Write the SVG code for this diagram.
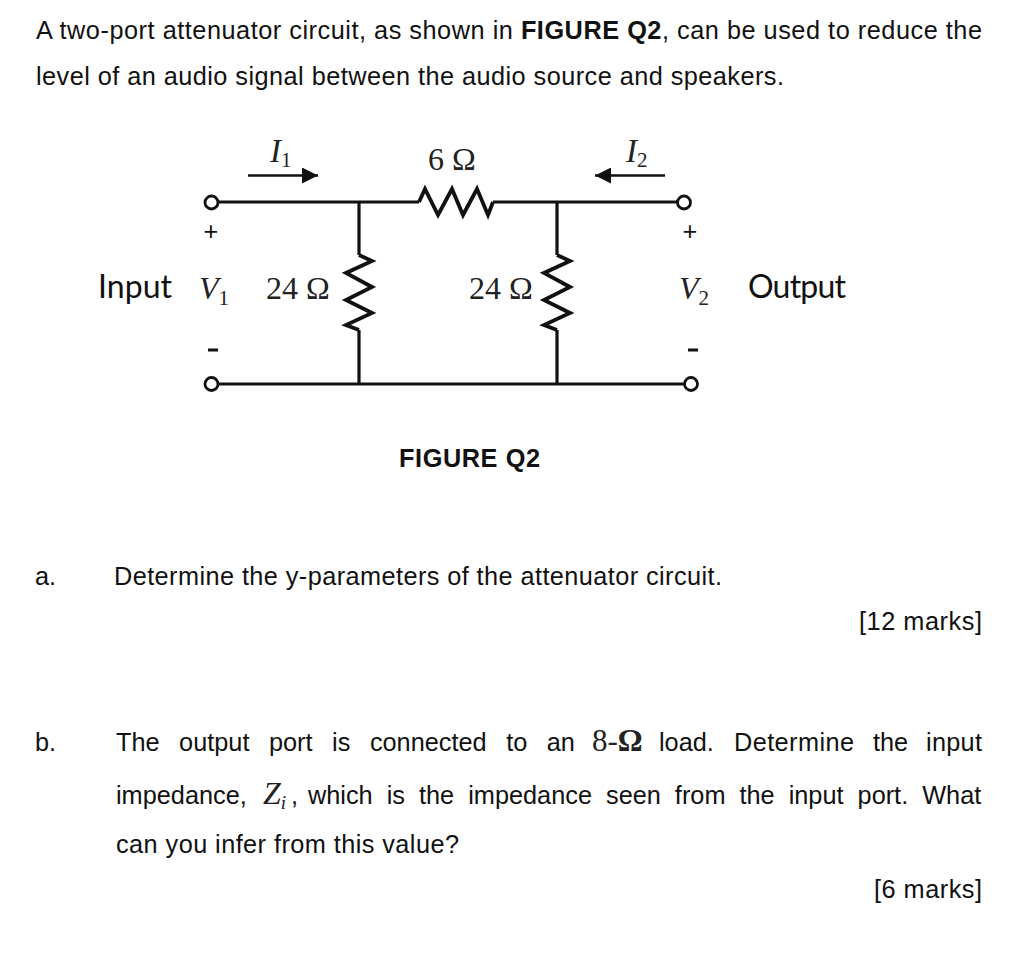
<svg xmlns="http://www.w3.org/2000/svg" width="1024" height="963" viewBox="0 0 1024 963">
<style>
text{fill:#111}
.b{font-family:"Liberation Sans",Arial,sans-serif;font-size:25.3px}
.bb{font-weight:700}
.m{font-family:"Liberation Serif","Times New Roman",serif;font-size:32px;fill:#222}
.i{font-style:italic}
.s{font-size:21px}
.l{font-family:Lato,"Open Sans",sans-serif;font-size:32px}
.w{fill:none;stroke:#111;stroke-width:3.2;stroke-linejoin:miter}
.z{stroke-width:3.8}
.a{stroke-width:2.6}
.t{fill:#fff;stroke:#111;stroke-width:2.8}
</style>
<defs>
<marker id="ah" markerUnits="userSpaceOnUse" markerWidth="17" markerHeight="16" refX="16" refY="8" orient="auto-start-reverse"><path d="M0 0L16 8L0 16Z" fill="#111"/></marker>
</defs>
<rect width="1024" height="963" fill="#fff"/>
<g id="paragraph">
<text class="b" x="36" y="39" textLength="946">A two-port attenuator circuit, as shown in <tspan class="bb">FIGURE Q2</tspan>, can be used to reduce the</text>
<text class="b" x="36" y="85" textLength="748">level of an audio signal between the audio source and speakers.</text>
</g>
<g id="connectors">
<path class="w" d="M217 202H419"/>
<path class="w" d="M493 202H678"/>
<path class="w z" d="M419 202L425 189L438 215L452 189L463 215L477 189L488 215L493 202"/>
<path class="w" d="M218 384H685"/>
<path class="w" d="M359 202V255M359 330V384"/>
<path class="w" d="M557 202V255M557 330V384"/>
<path class="w z" d="M359 255L372 261L346 273L372 287L346 300L372 313L346 325L359 330"/>
<path class="w z" d="M557 255L570 261L544 273L570 287L544 300L570 313L544 325L557 330"/>
<path class="w a" d="M248 175.500H318" marker-end="url(#ah)"/>
<path class="w a" d="M665 175.500H595" marker-end="url(#ah)"/>
</g>
<g id="terminal-in-top"><circle class="t" cx="211.500" cy="202.500" r="6.500"/></g>
<g id="terminal-in-bottom"><circle class="t" cx="211.500" cy="384" r="6.500"/></g>
<g id="terminal-out-top"><circle class="t" cx="684" cy="202.500" r="6.500"/></g>
<g id="terminal-out-bottom"><circle class="t" cx="691" cy="384" r="6.500"/></g>
<g id="labels">
<text class="m i" x="270" y="162" style="font-size:33px">I<tspan class="s" dy="5" font-style="normal">1</tspan></text>
<text class="m i" x="626" y="162" style="font-size:33px">I<tspan class="s" dy="5" font-style="normal">2</tspan></text>
<text class="m" x="428" y="170">6 Ω</text>
<text class="m" x="266" y="299">24 Ω</text>
<text class="m" x="469" y="299">24 Ω</text>
<text class="m i" x="199" y="299">V<tspan class="s" dy="6" font-style="normal">1</tspan></text>
<text class="m i" x="679" y="299">V<tspan class="s" dy="6" font-style="normal">2</tspan></text>
<text class="l" x="98" y="298" textLength="74">Input</text>
<text class="l" x="748" y="298" textLength="98">Output</text>
<text class="b" x="203.500" y="240">+</text>
<text class="b" x="682.500" y="240">+</text>
<path d="M208 350H218M688 350H698" stroke="#111" stroke-width="3" fill="none"/>
<text class="b bb" x="399" y="467" textLength="141">FIGURE Q2</text>
</g>
<g id="questions">
<text class="b" x="35" y="585">a.</text>
<text class="b" x="114" y="585" textLength="608">Determine the y-parameters of the attenuator circuit.</text>
<text class="b" x="859" y="630" textLength="123">[12 marks]</text>
<text class="b" x="35" y="751">b.</text>
<text class="b" x="116" y="751" word-spacing="12.500">The output port is connected to an</text>
<text class="m" x="592" y="751" style="font-size:31px">8-<tspan font-weight="700">Ω</tspan></text>
<text class="b" x="659" y="751">load.</text>
<text class="b" x="734" y="751" textLength="120">Determine</text>
<text class="b" x="873" y="751">the</text>
<text class="b" x="926" y="751" textLength="56">input</text>
<text class="b" x="116" y="804">impedance,</text>
<text class="m i" x="263" y="804">Z<tspan class="s" dy="5" style="font-size:19px">i</tspan></text>
<text class="b" x="291" y="804">,</text>
<text class="b" x="308" y="804" word-spacing="7">which is the impedance seen from the input port. What</text>
<text class="b" x="116" y="853" textLength="343">can you infer from this value?</text>
<text class="b" x="874" y="898" textLength="108">[6 marks]</text>
</g>
</svg>
